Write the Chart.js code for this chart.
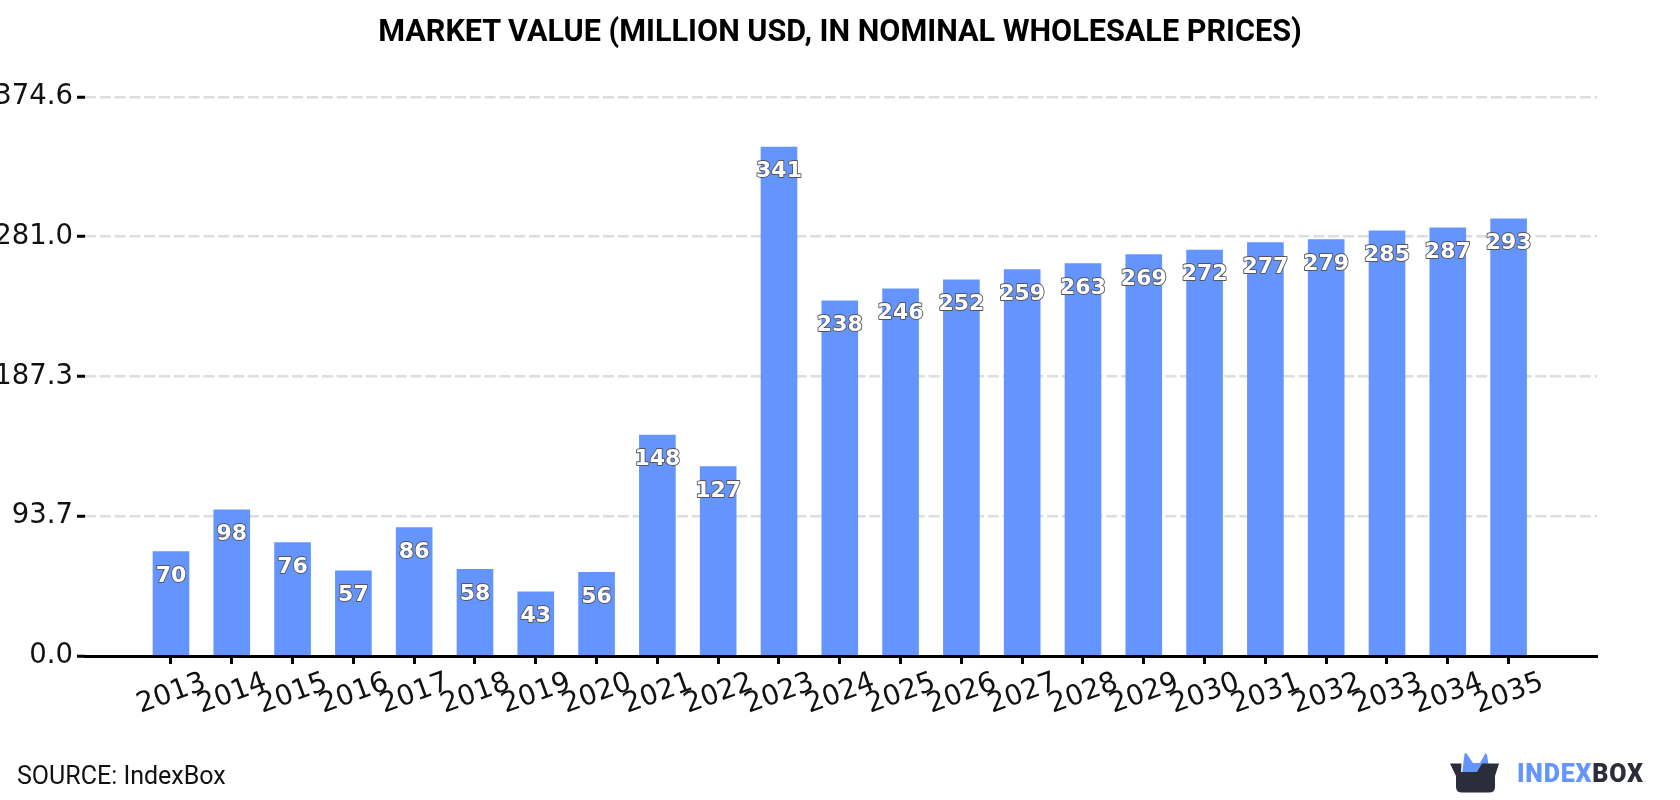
<!DOCTYPE html>
<html>
<head>
<meta charset="utf-8">
<title>Market value</title>
<script src="https://cdn.jsdelivr.net/npm/chart.js@4"></script>
<style>
    html, body { margin: 0; padding: 0; background: #fff; }
    #wrap { position: relative; width: 1680px; height: 800px; overflow: hidden; }
    #title { position: absolute; left: 0; width: 1680px; top: 13px; text-align: center; font: bold 30.6px Roboto, sans-serif; line-height: 36px; color: #000; }
    #source { position: absolute; left: 17px; top: 761px; font: 25px Roboto, sans-serif; color: #111; line-height: 29px; }
    #logo-icon { position: absolute; left: 1450px; top: 750px; }
    #logo-text { position: absolute; left: 1517px; top: 759px; font: 900 25px Roboto, sans-serif; letter-spacing: 0.8px; line-height: 30px; color: #2b2d3a; }
    #logo-text span { color: #6495ff; }
</style>
</head>
<body>
<div id="wrap">
    <canvas id="chart" width="1680" height="800"></canvas>
    <div id="title">MARKET VALUE (MILLION USD, IN NOMINAL WHOLESALE PRICES)</div>
    <div id="source">SOURCE: IndexBox</div>
    <svg id="logo-icon" width="50" height="44" viewBox="0 0 50 44">
        <path d="M12 24 L14.5 4 Q15.5 2 17 4 L23 13 L30 13 L35 4 Q36.5 2 37 5 L40 24 Z" fill="#6495ff"/>
        <path d="M0 13.5 L11.5 13.5 L11 22 L27 22 L32 13.5 L49 13.5 L45 26 L45 37 Q45 42.5 39 42.5 L12 42.5 Q6 42.5 6 37 L6 26 Z" fill="#2b2d3a"/>
    </svg>
    <div id="logo-text"><span>INDEX</span>BOX</div>
</div>
<script>
const years = [2013, 2014, 2015, 2016, 2017, 2018, 2019, 2020, 2021, 2022, 2023, 2024, 2025, 2026, 2027, 2028, 2029, 2030, 2031, 2032, 2033, 2034, 2035];
const marketValue = [70, 98, 76, 57, 86, 58, 43, 56, 148, 127, 341, 238, 246, 252, 259, 263, 269, 272, 277, 279, 285, 287, 293];
const yTicks = [0.0, 93.7, 187.3, 281.0, 374.6];

// value labels sit inside the bar, white with a dark outline
const barLabels = {
    id: 'barLabels',
    afterDatasetsDraw(chart) {
        const ctx = chart.ctx;
        const bars = chart.getDatasetMeta(0).data;
        ctx.save();
        ctx.font = 'bold 22px "DejaVu Sans"';
        ctx.textAlign = 'center';
        ctx.textBaseline = 'middle';
        ctx.lineJoin = 'round';
        bars.forEach((bar, i) => {
            const text = String(marketValue[i]);
            const y = bar.y + 24.5;
            ctx.lineWidth = 1.8;
            ctx.strokeStyle = '#555';
            ctx.strokeText(text, bar.x, y);
            ctx.fillStyle = '#fff';
            ctx.fillText(text, bar.x, y);
        });
        ctx.restore();
    }
};

new Chart(document.getElementById('chart').getContext('2d'), {
    type: 'bar',
    data: {
        datasets: [{
            data: years.map((year, i) => ({ x: year, y: marketValue[i] })),
            backgroundColor: '#6495ff',
            barThickness: 36,
            borderWidth: 0
        }]
    },
    options: {
        responsive: false,
        animation: false,
        layout: { padding: { top: 97, left: 0, right: 83, bottom: 0 } },
        plugins: {
            legend: { display: false },
            tooltip: { enabled: false }
        },
        scales: {
            x: {
                type: 'linear',
                offset: false,
                min: 2011.586,
                max: 2036.454,
                afterBuildTicks: scale => { scale.ticks = years.map(value => ({ value })); },
                afterFit: scale => { scale.height = 144; },
                grid: { offset: false, drawOnChartArea: false, drawTicks: true, tickLength: 8, tickColor: '#000', tickWidth: 3 },
                border: { display: true, color: '#000', width: 3 },
                ticks: {
                    autoSkip: false,
                    minRotation: 20,
                    maxRotation: 20,
                    labelOffset: 34,
                    padding: 2,
                    color: '#111',
                    font: { family: 'DejaVu Sans', size: 28 },
                    callback: value => String(value)
                }
            },
            y: {
                min: 0,
                max: 374.6,
                afterBuildTicks: scale => { scale.ticks = yTicks.map(value => ({ value })); },
                afterFit: scale => { scale.width = 85; },
                grid: {
                    color: '#dddddd',
                    lineWidth: 2.5,
                    tickColor: '#000',
                    tickWidth: 3,
                    tickBorderDash: [],
                    tickLength: 8
                },
                border: { display: false, dash: [11, 3.8] },
                ticks: {
                    padding: 4,
                    color: '#111',
                    font: { family: 'DejaVu Sans', size: 27.5 },
                    callback: value => value.toFixed(1)
                }
            }
        }
    },
    plugins: [barLabels]
});
</script>
</body>
</html>
